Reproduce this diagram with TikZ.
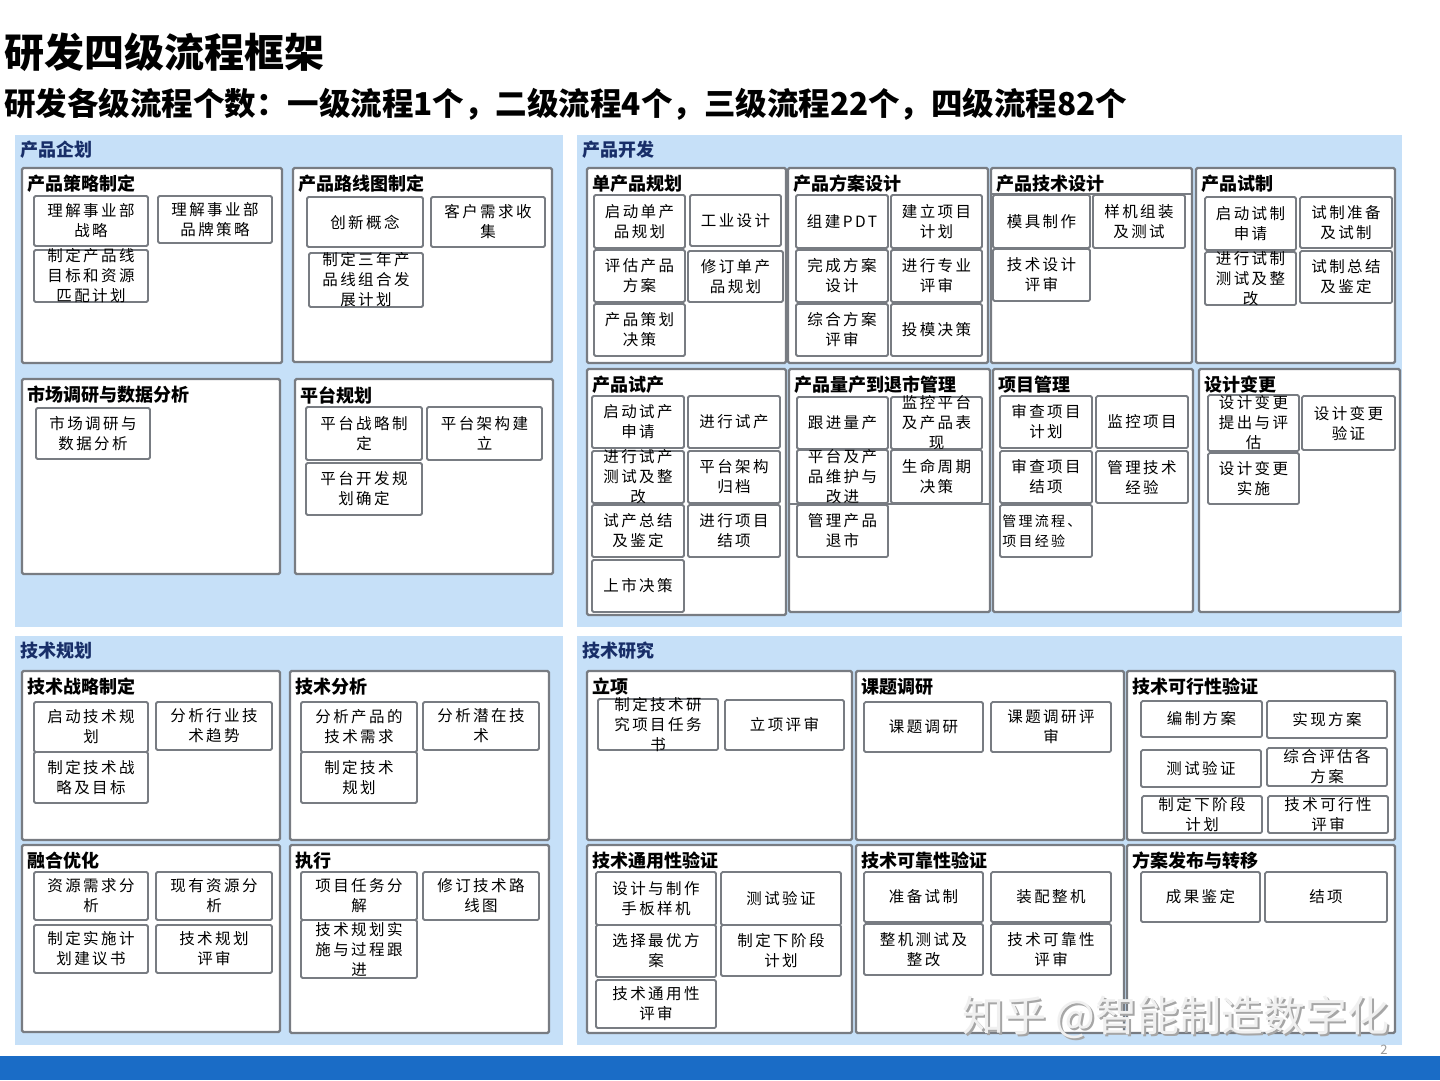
\documentclass[tikz,border=0pt]{standalone}
\usepackage{fontspec}
\setmainfont{Noto Sans CJK SC}
\newfontfamily\leaffont[LetterSpace=16]{Noto Sans CJK SC}
\usepackage{xcolor}
\definecolor{panelblue}{RGB}{198,224,248}
\definecolor{navy}{RGB}{24,46,104}
\definecolor{boxgray}{RGB}{120,124,130}
\definecolor{barblue}{RGB}{26,108,198}

\begin{document}
\begin{tikzpicture}[x=1pt, y=-1pt]
\tikzstyle{panel}=[fill=panelblue, draw=none, inner sep=0pt]
\tikzstyle{grpbox}=[draw=boxgray, line width=2.2pt, fill=white, rounded corners=1.5pt, inner sep=0pt]
\tikzstyle{leafbox}=[draw=boxgray, line width=1.8pt, fill=white, rounded corners=1.5pt, inner sep=0pt]
\tikzstyle{leafline}=[draw=boxgray, line width=1.8pt]
\tikzstyle{leaftxt}=[align=center, inner sep=0pt, font=\leaffont\fontsize{15.5}{20}\selectfont]
\tikzstyle{pnltitle}=[anchor=west, inner sep=0pt, text=navy, font=\bfseries\fontsize{18}{18}\selectfont]
\tikzstyle{grptitle}=[anchor=west, inner sep=0pt, font=\bfseries\fontsize{18}{18}\selectfont]
\useasboundingbox (0,0) rectangle (1440,1080);
\fill[white] (0,0) rectangle (1440,1080);

\node[anchor=west, inner sep=0pt, font=\bfseries\fontsize{40}{40}\selectfont] (title) at (4,52) {研发四级流程框架};
\node[anchor=west, inner sep=0pt, font=\bfseries\fontsize{31.5}{31.5}\selectfont] (subtitle) at (4,104) {研发各级流程个数：一级流程1个，二级流程4个，三级流程22个，四级流程82个};

% first level
\foreach \nm/\xa/\ya/\xb/\yb/\txt in {pa/15/135/563/627/产品企划, pb/577/135/1402/627/产品开发,
  pc/15/636/563/1045/技术规划, pd/577/636/1402/1045/技术研究}{
  \node[panel, minimum width={(\xb-\xa)*1pt}, minimum height={(\yb-\ya)*1pt}] (\nm) at ({(\xa+\xb)/2},{(\ya+\yb)/2}) {};
  \node[pnltitle] (\nm-t) at ({\xa+5},{\ya+15}) {\txt};
}

% second level
\foreach \nm/\xa/\ya/\xb/\yb/\txt in {a1/22/168/282/363/产品策略制定, a2/293/168/552/362/产品路线图制定,
  a3/22/379/280/574/市场调研与数据分析, a4/295/379/553/574/平台规划,
  b1/587/168/786/363/单产品规划, b2/788/168/988/363/产品方案设计,
  b3/991/168/1192/363/产品技术设计, b4/1196/168/1395/363/产品试制,
  b5/587/369/786/615/产品试产, b6/789/369/990/612/产品量产到退市管理,
  b7/993/369/1193/612/项目管理, b8/1199/369/1400/612/设计变更,
  c1/22/671/280/840/技术战略制定, c2/290/671/549/840/技术分析,
  c3/22/845/280/1032/融合优化, c4/290/845/549/1033/执行,
  d1/587/671/852/840/立项, d2/856/671/1124/840/课题调研,
  d3/1127/671/1395/840/技术可行性验证, d4/587/845/852/1033/技术通用性验证,
  d5/856/845/1124/1033/技术可靠性验证, d6/1127/845/1395/1033/方案发布与转移}{
  \node[grpbox, minimum width={(\xb-\xa)*1pt}, minimum height={(\yb-\ya)*1pt}] (\nm) at ({(\xa+\xb)/2},{(\ya+\yb)/2}) {};
  \node[grptitle] (\nm-t) at ({\xa+5},{\ya+16}) {\txt};
}

% fourth level
\foreach \nm/\xa/\ya/\xb/\yb/\txt in {
  a11/34/196/148/246/{理解事业部\\战略}, a12/158/196/272/243/{理解事业部\\品牌策略},
  a13/34/250/148/302/{制定产品线\\目标和资源\\匹配计划},
  a21/307/197/423/247/{创新概念}, a22/431/197/545/247/{客户需求收\\集},
  a23/309/253/423/307/{制定三年产\\品线组合发\\展计划},
  a31/36/408/150/459/{市场调研与\\数据分析},
  a41/306/407/422/460/{平台战略制\\定}, a42/427/407/542/460/{平台架构建\\立},
  a43/306/463/422/515/{平台开发规\\划确定},
  b11/594/195/685/248/{启动单产\\品规划}, b12/690/195/781/246/{工业设计},
  b13/594/250/685/302/{评估产品\\方案}, b14/688/251/783/302/{修订单产\\品规划},
  b15/594/304/685/356/{产品策划\\决策},
  b21/796/195/888/248/{组建PDT}, b22/891/195/982/248/{建立项目\\计划},
  b23/796/250/888/302/{完成方案\\设计}, b24/891/250/982/302/{进行专业\\评审},
  b25/796/304/888/356/{综合方案\\评审}, b26/891/304/982/356/{投模决策},
  b31/993/195/1090/248/{模具制作}, b32/1093/195/1185/248/{样机组装\\及测试},
  b33/993/249/1090/301/{技术设计\\评审},
  b41/1205/197/1296/250/{启动试制\\申请}, b42/1300/197/1392/248/{试制准备\\及试制},
  b43/1205/252/1296/305/{进行试制\\测试及整\\改}, b44/1300/251/1392/303/{试制总结\\及鉴定},
  b51/592/396/684/448/{启动试产\\申请}, b52/688/396/780/448/{进行试产},
  b53/592/451/684/503/{进行试产\\测试及整\\改}, b54/688/451/780/503/{平台架构\\归档},
  b55/592/505/684/557/{试产总结\\及鉴定}, b56/688/505/780/557/{进行项目\\结项},
  b57/592/560/684/612/{上市决策},
  b61/797/397/888/449/{跟进量产}, b62/891/397/982/449/{监控平台\\及产品表\\现},
  b63/797/450/888/503/{平台及产\\品维护与\\改进}, b64/891/450/982/503/{生命周期\\决策},
  b65/797/505/888/557/{管理产品\\退市},
  b71/1000/396/1092/448/{审查项目\\计划}, b72/1096/396/1188/448/{监控项目},
  b73/1000/451/1092/503/{审查项目\\结项}, b74/1096/451/1188/503/{管理技术\\经验},
  b81/1208/395/1299/451/{设计变更\\提出与评\\估}, b82/1302/396/1395/450/{设计变更\\验证},
  b83/1208/453/1299/504/{设计变更\\实施},
  c11/34/702/148/752/{启动技术规\\划}, c12/156/702/272/750/{分析行业技\\术趋势},
  c13/34/752/148/803/{制定技术战\\略及目标},
  c21/301/702/417/752/{分析产品的\\技术需求}, c22/423/702/539/750/{分析潜在技\\术},
  c23/301/752/417/803/{制定技术\\规划},
  c31/34/872/148/920/{资源需求分\\析}, c32/156/872/272/920/{现有资源分\\析},
  c33/34/925/148/973/{制定实施计\\划建议书}, c34/156/925/272/973/{技术规划\\评审},
  c41/301/872/417/920/{项目任务分\\解}, c42/423/872/539/920/{修订技术路\\线图},
  c43/301/920/417/978/{技术规划实\\施与过程跟\\进},
  d11/598/699/718/750/{制定技术研\\究项目任务\\书}, d12/725/700/844/750/{立项评审},
  d21/864/702/983/752/{课题调研}, d22/991/702/1111/752/{课题调研评\\审},
  d31/1141/701/1262/737/{编制方案}, d32/1267/701/1387/738/{实现方案},
  d33/1141/750/1261/787/{测试验证}, d34/1267/748/1387/786/{综合评估各\\方案},
  d35/1142/796/1262/833/{制定下阶段\\计划}, d36/1268/796/1388/833/{技术可行性\\评审},
  d41/596/872/716/925/{设计与制作\\手板样机}, d42/721/872/841/925/{测试验证},
  d43/596/925/716/977/{选择最优方\\案}, d44/721/925/841/976/{制定下阶段\\计划},
  d45/596/980/716/1028/{技术通用性\\评审},
  d51/864/872/983/922/{准备试制}, d52/991/872/1111/922/{装配整机},
  d53/864/924/983/975/{整机测试及\\整改}, d54/991/924/1111/975/{技术可靠性\\评审},
  d61/1141/872/1260/922/{成果鉴定}, d62/1265/872/1387/922/{结项}}{
  \node[leafbox, minimum width={(\xb-\xa)*1pt}, minimum height={(\yb-\ya)*1pt}] (\nm) at ({(\xa+\xb)/2},{(\ya+\yb)/2}) {};
  \node[leaftxt] (\nm-t) at (\nm) {\txt};
}
\node[leafbox, minimum width=92pt, minimum height=52pt] (b75) at (1046,531) {};
\node[leaftxt, align=left, anchor=west, font=\leaffont\fontsize{14}{20}\selectfont] (b75-t) at ([xshift=3pt]b75.west) {管理流程、\\项目经验};

\draw[leafline] (b3.west |- b31.north) -- (b3.east |- b31.north);
\draw[leafline] (b6.west |- b63.south) -- (b6.east |- b63.south);

% watermark and page foot
\node[anchor=west, inner sep=0pt, text=gray!70, font=\fontsize{42}{42}\selectfont] (wm-s) at (964,1019) {知乎 @智能制造数字化};
\node[anchor=west, inner sep=0pt, text=white!88!gray, font=\fontsize{42}{42}\selectfont] (wm) at (962,1017) {知乎 @智能制造数字化};
\node[inner sep=0pt, text=gray!80, font=\fontsize{13}{13}\selectfont] (page) at (1384,1050) {2};
\fill[barblue] (0,1056) rectangle (1440,1080);
\end{tikzpicture}
\end{document}
